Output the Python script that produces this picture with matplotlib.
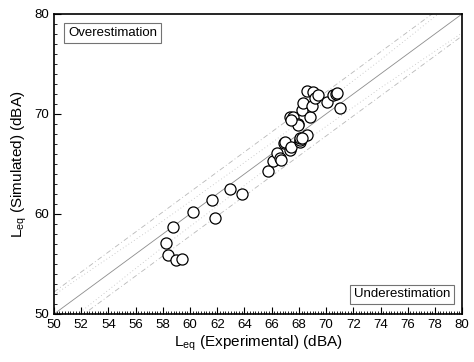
import numpy as np
import matplotlib
matplotlib.use("Agg")
import matplotlib.pyplot as plt
from matplotlib.ticker import MultipleLocator

plt.rcParams['font.family'] = ['Liberation Sans', 'DejaVu Sans']

# measured vs simulated Leq (dBA)
leq_exp = [58.2, 58.4, 58.75, 59.0, 59.4, 60.2, 61.6, 61.8, 62.9, 63.8,
           65.7, 66.1, 66.4, 66.6, 66.7, 66.9, 67.0, 67.35, 67.4, 67.35,
           67.6, 67.9, 67.9, 68.1, 68.1, 68.2, 68.3, 68.6, 68.6, 68.8,
           68.95, 69.0, 69.2, 69.4, 70.1, 70.5, 70.7, 70.8, 71.0, 67.4,
           68.1, 68.2]
leq_sim = [57.1, 55.9, 58.7, 55.4, 55.5, 60.2, 61.4, 59.6, 62.5, 62.0,
           64.3, 65.3, 66.1, 65.6, 65.4, 67.1, 67.2, 66.4, 66.7, 69.7,
           69.7, 69.0, 68.9, 67.2, 67.4, 70.4, 71.1, 72.3, 67.9, 69.7,
           70.8, 72.2, 71.6, 71.9, 71.2, 71.9, 72.0, 72.1, 70.6, 69.4,
           67.6, 67.6]

# reference lines
ref_x = [50, 80]
outer_offset = 2.2
band_x = [50, 58, 66, 74, 80]
band_offset = [1.9, 1.3, 1.1, 1.4, 1.9]

fig = plt.figure(figsize=(4.74, 3.62), dpi=100)
ax = fig.add_axes([0.114, 0.1326, 0.861, 0.829])

rx = np.array(ref_x, dtype=float)
ax.plot(rx, rx, color='0.55', lw=0.6)
ax.plot(rx, rx + outer_offset, color='0.72', lw=0.6, ls=(0, (6, 3, 1, 3)))
ax.plot(rx, rx - outer_offset, color='0.72', lw=0.6, ls=(0, (6, 3, 1, 3)))
bx = np.array(band_x, dtype=float)
bo = np.array(band_offset)
ax.plot(bx, bx + bo, color='0.75', lw=0.6, ls=(0, (1, 3)))
ax.plot(bx, bx - bo, color='0.75', lw=0.6, ls=(0, (1, 3)))

ax.plot(leq_exp, leq_sim, 'o', ms=8, mfc='white', mec='black', mew=0.9)

ax.set_xlim(50, 80)
ax.set_ylim(50, 80)
ax.xaxis.set_major_locator(MultipleLocator(2))
ax.xaxis.set_minor_locator(MultipleLocator(0.2))
ax.yaxis.set_major_locator(MultipleLocator(10))
ax.yaxis.set_minor_locator(MultipleLocator(1))
ax.tick_params(which='both', direction='in', top=False, right=False, labelsize=9.5)
ax.tick_params(which='major', length=5, width=0.8)
ax.tick_params(which='minor', length=2.5, width=0.6)
for s in ax.spines.values():
    s.set_linewidth(1.2)

ax.set_xlabel(r'L$_\mathregular{eq}$ (Experimental) (dBA)', fontsize=11, labelpad=2)
ax.set_ylabel(r'L$_\mathregular{eq}$ (Simulated) (dBA)', fontsize=11, labelpad=4)

box = dict(boxstyle='square,pad=0.3', fc='white', ec='0.45', lw=0.8)
ax.text(0.035, 0.955, 'Overestimation', transform=ax.transAxes, fontsize=9.5,
        ha='left', va='top', bbox=box)
ax.text(0.97, 0.045, 'Underestimation', transform=ax.transAxes, fontsize=9.5,
        ha='right', va='bottom', bbox=box)

fig.savefig('out.png', dpi=100)
